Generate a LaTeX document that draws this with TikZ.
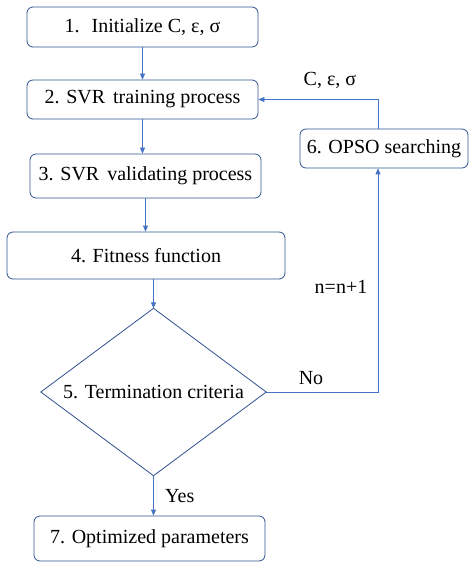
\documentclass[tikz,border=0pt]{standalone}
\usepackage{fontspec}
\setmainfont{Liberation Serif}
\usepackage{tikz}
\usetikzlibrary{arrows.meta,calc}
\definecolor{BordeAzul}{RGB}{47,82,143}
\definecolor{FlechaAzul}{RGB}{68,114,196}

\tikzset{
  stepbox/.style={draw=BordeAzul,thick,rounded corners=6pt,minimum width=231pt,inner sep=0pt},
  flow/.style={->,FlechaAzul,thick},
  txt/.style={font=\fontsize{20}{22}\selectfont,text=black}
}

\begin{document}
\begin{tikzpicture}[x=1pt,y=1pt,>={Triangle[length=6pt,width=5pt]},every node/.style={txt}]
  \useasboundingbox (0,0) rectangle (474,-569);
  % boxes of the main chain
  \node[stepbox,minimum height=40pt] (init) at (142.5,-27) {1.\hspace{0.6em}Initialize C, ε, σ\hspace{1.2em}};
  \node[stepbox,minimum height=39pt] (train) at (142.5,-99.5) {2. SVR\hspace{0.15em} training process};
  \node[stepbox,minimum height=44pt] (valid) at (145.5,-176) {3. SVR\hspace{0.15em} validating process};
  \node[stepbox,minimum width=278pt,minimum height=47pt] (fit) at (146,-255.5) {4. Fitness function};
  \node[minimum width=225pt,minimum height=167pt,inner sep=0pt] (term) at (153.5,-392) {5. Termination criteria};
  \draw[BordeAzul,thick] (term.north) -- (term.east) -- (term.south) -- (term.west) -- cycle;
  \node[stepbox,minimum height=45pt] (opt) at (149.5,-538.5) {7. Optimized parameters};
  \node[stepbox,minimum width=168pt,minimum height=39pt] (opso) at (384,-148.5) {6. OPSO searching};

  % connectors
  \draw[flow] (init) -- (train);
  \draw[flow] (train) -- (train.south |- valid.north);
  \draw[flow] (valid.south) -- (valid.south |- fit.north);
  \draw[flow] (term.north |- fit.south) -- (term.north);
  \draw[flow] (term.south) -- (term.south |- opt.north) node[midway,right=8pt] (yes) {Yes};
  \draw[flow] (term.east) -| ([xshift=-6pt]opso.south);
  \draw[flow] ([xshift=-6pt]opso.north) |- (train.east);

  % labels on the loop
  \node (no) at (311,-378) {No};
  \node (count) at (341,-287) {n=n+1};
  \node (params) at (330,-80) {C, ε, σ};
\end{tikzpicture}
\end{document}
